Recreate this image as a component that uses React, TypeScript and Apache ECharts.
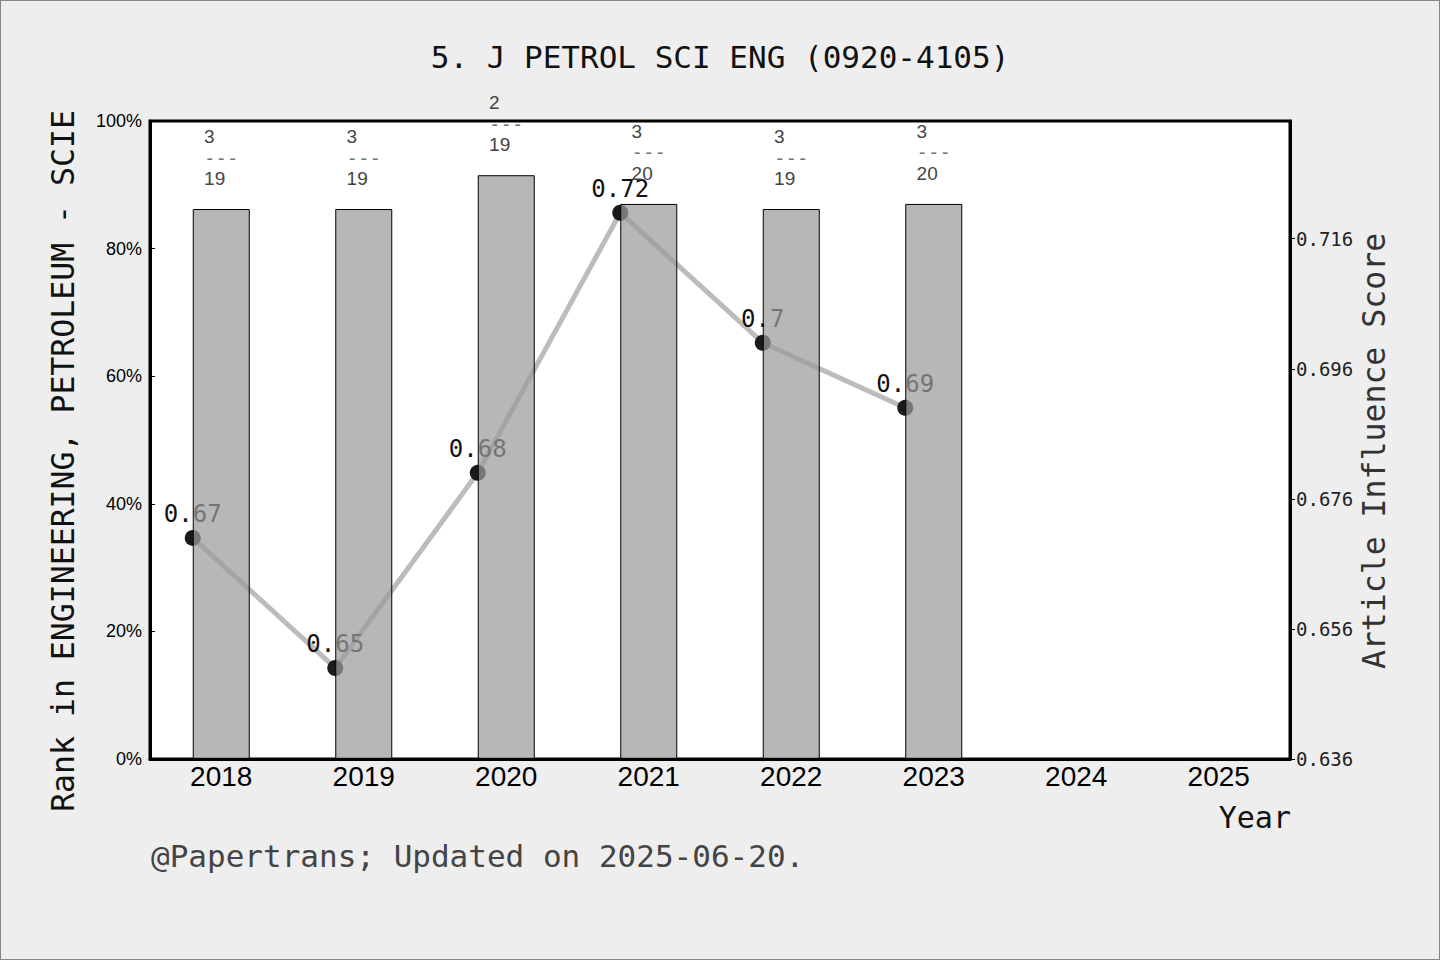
import React, { useEffect, useRef } from 'react';
import * as echarts from 'echarts';

const years = ['2018', '2019', '2020', '2021', '2022', '2023', '2024', '2025'];
const rankPos = [3, 3, 2, 3, 3, 3];
const rankTotal = [19, 19, 19, 20, 19, 20];
const rankPct = [86.2, 86.2, 91.5, 87.0, 86.2, 87.0];
const aisValues = [0.67, 0.65, 0.68, 0.72, 0.7, 0.69];
const pctTicks = { min: 0, max: 100, interval: 20 };
const aisTicks = { min: 0.636, max: 0.7341, interval: 0.02 };

const MONO = "'DejaVu Sans Mono', monospace";
const SANS = "'Liberation Sans', Arial, sans-serif";
// line points sit on the left edge of each bar
const LINE_SHIFT = 0.2;

const App: React.FC = () => {
  const chartRef = useRef<HTMLDivElement>(null);

  useEffect(() => {
    document.body.style.margin = '0';
    if (!chartRef.current) return;
    const chart = echarts.init(chartRef.current, undefined, { renderer: 'svg' });

    chart.setOption({
      animation: false,
      backgroundColor: '#eeeeee',
      title: {
        text: '5. J PETROL SCI ENG (0920-4105)',
        left: 'center',
        top: 35,
        textStyle: { fontFamily: MONO, fontSize: 31, fontWeight: 'normal', color: '#111' },
      },
      grid: {
        left: 149,
        right: 149,
        top: 120,
        bottom: 200,
        show: true,
        backgroundColor: '#fff',
        borderColor: '#000',
        borderWidth: 3,
      },
      xAxis: [
        {
          type: 'category',
          data: years,
          axisLine: { onZero: false, lineStyle: { color: '#000', width: 3 } },
          axisTick: { inside: true, length: 5, lineStyle: { color: '#000' } },
          axisLabel: { fontFamily: SANS, fontSize: 28, color: '#000', margin: 3 },
        },
        {
          type: 'value',
          min: -0.5,
          max: years.length - 0.5,
          show: false,
          axisLine: { show: false, onZero: false },
          axisTick: { show: false },
          axisLabel: { show: false },
          splitLine: { show: false },
        },
      ],
      yAxis: [
        {
          type: 'value',
          ...pctTicks,
          position: 'left',
          splitLine: { show: false },
          axisLine: { show: true, onZero: false, lineStyle: { color: '#000', width: 3 } },
          axisTick: { show: true, inside: true, length: 5, lineStyle: { color: '#000' } },
          axisLabel: {
            fontFamily: SANS,
            fontSize: 18,
            color: '#000',
            margin: 8,
            formatter: (v: number) => `${v}%`,
          },
        },
        {
          type: 'value',
          ...aisTicks,
          position: 'right',
          splitLine: { show: false },
          axisLine: { show: true, onZero: false, lineStyle: { color: '#000', width: 3 } },
          axisTick: { show: true, length: 5, lineStyle: { color: '#000' } },
          axisLabel: {
            fontFamily: MONO,
            fontSize: 19,
            color: '#222',
            margin: 6,
            showMaxLabel: false,
            formatter: (v: number) => v.toFixed(3),
          },
        },
      ],
      series: [
        {
          name: 'Rank',
          type: 'bar',
          z: 3,
          barWidth: 57,
          data: rankPct,
          itemStyle: { color: 'rgba(155,155,155,0.72)', borderColor: '#000', borderWidth: 1 },
          label: {
            show: true,
            position: 'top',
            distance: 20,
            align: 'center',
            formatter: (p: any) => `{n|${rankPos[p.dataIndex]}}\n{d|---}\n{n|${rankTotal[p.dataIndex]}}`,
            rich: {
              n: { fontFamily: SANS, fontSize: 19, color: '#444', align: 'left', lineHeight: 21 },
              d: { fontFamily: MONO, fontSize: 19, color: '#777', align: 'left', lineHeight: 21 },
            },
          },
        },
        {
          name: 'Article Influence Score',
          type: 'line',
          z: 2,
          xAxisIndex: 1,
          yAxisIndex: 1,
          data: aisValues.map((v, i) => [i - LINE_SHIFT, v]),
          symbol: 'circle',
          symbolSize: 16,
          itemStyle: { color: '#1a1a1a' },
          lineStyle: { color: '#bcbcbc', width: 5 },
          label: {
            show: true,
            position: 'top',
            distance: 4,
            fontFamily: MONO,
            fontSize: 24,
            color: '#111',
            formatter: (p: any) => String(p.value[1]),
          },
        },
      ],
      graphic: [
        {
          type: 'text',
          x: 62,
          y: 460,
          rotation: Math.PI / 2,
          style: {
            text: 'Rank in ENGINEERING, PETROLEUM - SCIE',
            fontFamily: MONO,
            fontSize: 31.5,
            fill: '#111',
            align: 'center',
            verticalAlign: 'middle',
          },
        },
        {
          type: 'text',
          x: 1373,
          y: 450,
          rotation: Math.PI / 2,
          style: {
            text: 'Article Influence Score',
            fontFamily: MONO,
            fontSize: 31.5,
            fill: '#333',
            align: 'center',
            verticalAlign: 'middle',
          },
        },
        {
          type: 'text',
          x: 1290,
          y: 816,
          style: {
            text: 'Year',
            fontFamily: MONO,
            fontSize: 30,
            fill: '#111',
            align: 'right',
            verticalAlign: 'middle',
          },
        },
        {
          type: 'text',
          x: 150,
          y: 855,
          style: {
            text: '@Papertrans; Updated on 2025-06-20.',
            fontFamily: MONO,
            fontSize: 31,
            fill: '#444',
            align: 'left',
            verticalAlign: 'middle',
          },
        },
      ],
    });

    return () => {
      chart.dispose();
    };
  }, []);

  return (
    <div
      ref={chartRef}
      style={{
        width: 1440,
        height: 960,
        boxSizing: 'border-box',
        border: '1px solid #888',
      }}
    />
  );
};

export default App;
